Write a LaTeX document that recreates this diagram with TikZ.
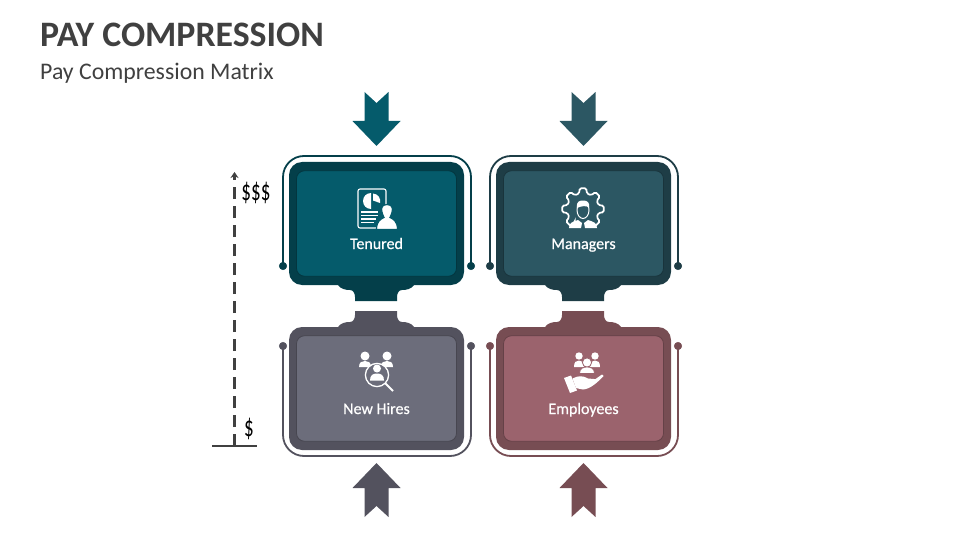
\documentclass[tikz,border=0pt]{standalone}
\usepackage{fontspec}
\setmainfont{Carlito}
\newfontfamily\labelfont[FakeBold=0.6]{Carlito}
\usetikzlibrary{arrows.meta}
\definecolor{titlegray}{HTML}{404040}
\definecolor{tealin}{HTML}{055B6B}
\definecolor{tealout}{HTML}{043F4A}
\definecolor{slatein}{HTML}{2C5763}
\definecolor{slateout}{HTML}{1E3D46}
\definecolor{grayin}{HTML}{6C6D7B}
\definecolor{grayout}{HTML}{53525E}
\definecolor{rosein}{HTML}{9B636D}
\definecolor{roseout}{HTML}{774D53}
\tikzset{
  outerbox/.style={rounded corners=13pt, minimum width=175pt, minimum height=123pt, inner sep=0pt},
  innerbox/.style={rounded corners=8pt, minimum width=160pt, minimum height=105.5pt, inner sep=0pt, line width=0.8pt},
  cardlabel/.style={text=white, font=\fontsize{16}{18}\labelfont, inner sep=0pt, anchor=base},
  pricelabel/.style={text=black, inner sep=0pt, font=\fontsize{29}{32}\selectfont, xscale=0.66, transform shape},
  heavyarrow/.pic={\fill[pic actions] (0,11) -- (-12,0) -- (-12,29) -- (-24,29) -- (0,54) -- (24,29) -- (12,29) -- (12,0) -- cycle;},
  cardtab/.pic={\fill[pic actions] (-38,-1) -- (-38,0) .. controls (-35,4) and (-31,5) .. (-26,5) .. controls (-23,5) and (-21,8) .. (-21,12) -- (-21,16) -- (21,16) -- (21,12) .. controls (21,8) and (23,5) .. (26,5) .. controls (31,5) and (35,4) .. (38,0) -- (38,-1) -- cycle;},
  cardbracket/.pic={\draw[pic actions, fill=none, line width=1.8pt, rounded corners=21pt] (-94,0) -- (-94,-110) -- (94,-110) -- (94,0);
    \fill[pic actions] (-94,0) circle (3.8) (94,0) circle (3.8);}
}
\begin{document}
\begin{tikzpicture}[x=1pt, y=-1pt]
  \useasboundingbox (0,0) rectangle (960,540);
  \node[anchor=west, inner sep=0pt, text=titlegray, font=\fontsize{35.8}{40}\selectfont\bfseries] (title) at (40,34.5) {PAY COMPRESSION};
  \node[anchor=west, inner sep=0pt, text=titlegray, font=\fontsize{23.8}{28}\selectfont] (subtitle) at (40,73.5) {Pay Compression Matrix};
  % price axis
  \coordinate (axisfoot) at (234.5,446);
  \coordinate (axistop) at (234.5,172);
  \coordinate (baseleft) at (212,446);
  \coordinate (baseright) at (257,446);
  \draw[titlegray, line width=2.4pt, dash pattern=on 12pt off 7pt, -{Stealth[length=6pt, width=8pt]}] (axisfoot) -- (axistop);
  \draw[titlegray, line width=2.2pt] (baseleft) -- (baseright);
  \node[pricelabel] (high) at (256,192.5) {\$\$\$};
  \node[pricelabel] (low) at (249,428.5) {\$};
  % arrows
  \pic[fill=tealin] at (376.5,92) {heavyarrow};
  \pic[fill=slatein] at (583.5,92) {heavyarrow};
  \pic[fill=grayout, yscale=-1] at (376.5,517) {heavyarrow};
  \pic[fill=roseout, yscale=-1] at (583.5,517) {heavyarrow};
  % brackets
  \pic[draw=tealout, fill=tealout] at (377,266) {cardbracket};
  \pic[draw=slateout, fill=slateout] at (584,266) {cardbracket};
  \pic[draw=grayout, fill=grayout, yscale=-1] at (377,346) {cardbracket};
  \pic[draw=roseout, fill=roseout, yscale=-1] at (584,346) {cardbracket};
  % tabs
  \pic[fill=tealout] at (376,285) {cardtab};
  \pic[fill=slateout] at (583,285) {cardtab};
  \pic[fill=grayout, yscale=-1] at (376,327) {cardtab};
  \pic[fill=roseout, yscale=-1] at (583,327) {cardtab};
  % cards
  \node[outerbox, fill=tealout] (tenuredout) at (376.5,223.5) {};
  \node[innerbox, fill=tealin, draw=tealout!85!black] (tenured) at (376.5,223.5) {};
  \node[cardlabel] (tenuredtext) at (376.5,249) {Tenured};
  \node[outerbox, fill=slateout] (managersout) at (583.5,223.5) {};
  \node[innerbox, fill=slatein, draw=slateout!85!black] (managers) at (583.5,223.5) {};
  \node[cardlabel] (managerstext) at (583.5,249) {Managers};
  \node[outerbox, fill=grayout] (newhiresout) at (376.5,388.5) {};
  \node[innerbox, fill=grayin, draw=grayout!85!black] (newhires) at (376.5,388.5) {};
  \node[cardlabel] (newhirestext) at (376.5,414) {New Hires};
  \node[outerbox, fill=roseout] (employeesout) at (583.5,388.5) {};
  \node[innerbox, fill=rosein, draw=roseout!85!black] (employees) at (583.5,388.5) {};
  \node[cardlabel] (employeestext) at (583.5,414) {Employees};
  % report icon
  \draw[white, line width=1.1pt, rounded corners=2pt] (386,189) -- (358,189) -- (358,228) -- (386,228) -- cycle;
  \fill[white] (371,193) arc[start angle=-90, end angle=-270, radius=8] -- (371,201) -- cycle;
  \fill[white] (373,193.5) -- (373,200.5) -- (380,203) .. controls (381,198) and (378,194) .. (373,193.5) -- cycle;
  \draw[white, line width=1.1pt] (361,212) -- (378,212) (361,215.5) -- (378,215.5) (361,219) -- (376,219) (361,222.5) -- (374,222.5);
  \filldraw[white, draw=tealin, line width=1.2pt] (376.5,229.5) .. controls (376.5,221) and (381,219) .. (384,217.5) .. controls (380,209) and (381,204.5) .. (387,204.5) .. controls (393,204.5) and (394,209) .. (390,217.5) .. controls (393,219) and (397.5,221) .. (397.5,229.5) -- cycle;
  % search icon
  \fill[white] (365,356) circle (4.5) (387,356) circle (4.5);
  \fill[white] (359,367) .. controls (359,362) and (362,361) .. (365,361) .. controls (368,361) and (371,362) .. (371,367) -- cycle;
  \fill[white] (381,367) .. controls (381,362) and (384,361) .. (387,361) .. controls (390,361) and (393,362) .. (393,367) -- cycle;
  \filldraw[grayin, draw=white, line width=1.3pt] (377,375) circle (11.6);
  \fill[white] (377,368.5) circle (4);
  \fill[white] (370,380.5) .. controls (370,375) and (373,373.5) .. (377,373.5) .. controls (381,373.5) and (384,375) .. (384,380.5) -- cycle;
  \draw[white, line width=2pt] (385,383) -- (393,391);
  % manager icon
  \draw[white, line width=1.7pt, rounded corners=1.5pt, shift={(583,209)}] (121:16) \foreach \a in {135,180,225,270,315,360,405} {-- (\a-14:16) -- (\a-9:21) -- (\a+9:21) -- (\a+14:16)};
  \draw[white, line width=1pt] (583,210) ellipse (6 and 8.5);
  \fill[white] (577,208) .. controls (576,201) and (580,200.5) .. (583,200.5) .. controls (587,200.5) and (590,202) .. (589,208) .. controls (587,205) and (581,206) .. (577,208) -- cycle;
  \fill[white] (569,228) .. controls (569,223) and (572,222) .. (578,220) -- (582,223) -- (581,228) -- cycle;
  \fill[white] (597,228) .. controls (597,223) and (594,222) .. (588,220) -- (584,223) -- (585,228) -- cycle;
  % employee icon
  \fill[white] (579,356) circle (3.7) (595,356) circle (3.7);
  \fill[white] (574,367) .. controls (574,362) and (576,360.5) .. (579,360.5) .. controls (582,360.5) and (584,362) .. (584,367) -- cycle;
  \fill[white] (590,367) .. controls (590,362) and (592,360.5) .. (595,360.5) .. controls (598,360.5) and (600,362) .. (600,367) -- cycle;
  \filldraw[white, draw=rosein, line width=0.8pt] (587,362.5) circle (4.6);
  \filldraw[white, draw=rosein, line width=0.8pt] (579.5,373.5) .. controls (579.5,368.5) and (583,367) .. (587,367) .. controls (591,367) and (594.5,368.5) .. (594.5,373.5) -- cycle;
  \fill[white] (564,378) -- (571,375.5) -- (577,390.5) -- (570,393) -- cycle;
  \fill[white] (572.5,378.5) .. controls (578,375.5) and (583,375.5) .. (588,378.5) -- (594,379) .. controls (597,379) and (597,382) .. (592,382) -- (584,382) -- (592,381.5) -- (602,374.5) -- (603.5,376) .. controls (597,383) and (590,389) .. (583,389.5) .. controls (580,389.5) and (578,388) .. (576,388) -- cycle;
\end{tikzpicture}
\end{document}
